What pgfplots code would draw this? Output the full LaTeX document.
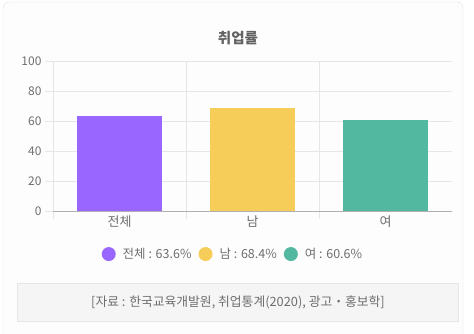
\documentclass[border=0pt]{standalone}
\usepackage{fontspec}
\setmainfont{Noto Sans CJK KR}
\usepackage{pgfplots}
\pgfplotsset{compat=1.18}
\definecolor{cpurple}{HTML}{9966FF}
\definecolor{cyellow}{HTML}{F7CD5A}
\definecolor{cteal}{HTML}{52B8A0}
\definecolor{gridc}{HTML}{E6E6E6}
\definecolor{axisc}{HTML}{C4C4C4}
\definecolor{txt}{HTML}{6E6E6E}
\definecolor{cardbd}{HTML}{E2E2E2}
\definecolor{cardbg}{HTML}{FDFDFD}
\definecolor{srcbg}{HTML}{F5F5F5}
\definecolor{srcbd}{HTML}{E6E6E6}
\begin{document}
\begin{tikzpicture}
\path[use as bounding box] (0,0) rectangle (474pt,333pt);
\fill[white] (0,0) rectangle (474pt,333pt);
\draw[cardbd, fill=cardbg, rounded corners=6pt] (3pt,-10pt) rectangle (463pt,331pt);
\node[font=\fontsize{14.5}{16}\selectfont\bfseries, text=txt!90!black] at (238pt,295pt) {취업률};
\begin{axis}[
  at={(53pt,122pt)}, anchor=south west,
  scale only axis, width=399pt, height=150pt,
  xmin=0, xmax=3, ymin=0, ymax=100,
  axis x line=bottom, axis y line=left,
  axis line style={-, draw=axisc},
  x axis line style={draw=axisc!90!black},
  y axis line style={draw=gridc},
  ytick={0,20,40,60,80,100},
  xtick={0,1,2}, xticklabels={},
  extra x ticks={0.5,1.5,2.5},
  extra x tick labels={전체,남,여},
  extra x tick style={grid=none, major tick length=0pt},
  ymajorgrids, xmajorgrids,
  grid style={draw=gridc, line width=0.6pt},
  tick align=outside, major tick length=8pt,
  tick style={draw=gridc, line width=0.6pt},
  ticklabel style={font=\fontsize{12}{14}\selectfont, text=txt},
  /pgf/number format/assume math mode=true,
  yticklabel style={xshift=0pt},
  xticklabel style={yshift=-1pt, font=\fontsize{13}{15}\selectfont},
  legend style={at={(0.451,-0.287)}, anchor=center, draw=none, fill=none,
    font=\fontsize{12.5}{15}\selectfont, text=txt, legend columns=3,
    /tikz/every odd column/.append style={column sep=5pt},
    /tikz/every even column/.append style={column sep=5pt}},
  legend image code/.code={\fill[#1] (0.2cm,0pt) circle (7pt);},
]
\addplot[ybar, bar shift=0pt, bar width=85pt, fill=cpurple, draw=none] coordinates {(0.5,63.6)};
\addlegendentry{전체 : 63.6\%}
\addplot[ybar, bar shift=0pt, bar width=85pt, fill=cyellow, draw=none] coordinates {(1.5,68.4)};
\addlegendentry{남 : 68.4\%}
\addplot[ybar, bar shift=0pt, bar width=85pt, fill=cteal, draw=none] coordinates {(2.5,60.6)};
\addlegendentry{여 : 60.6\%}
\end{axis}
\draw[srcbd, fill=srcbg] (17pt,12pt) rectangle (458pt,50pt);
\node[font=\fontsize{12.8}{15}\selectfont, text=txt] at (238pt,31pt) {[자료 : 한국교육개발원, 취업통계(2020), 광고・홍보학]};
\end{tikzpicture}
\end{document}
